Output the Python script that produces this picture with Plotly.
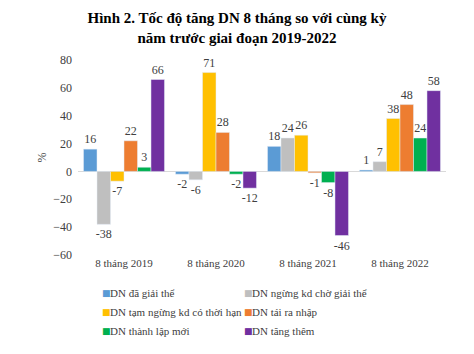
import plotly.graph_objects as go

categories = ["8 tháng 2019", "8 tháng 2020", "8 tháng 2021", "8 tháng 2022"]
series_names = ["DN đã giải thể", "DN ngừng kd chờ giải thể", "DN tạm ngừng kd có thời hạn",
                "DN tái ra nhập", "DN thành lập mới", "DN tăng thêm"]
giai_the = [16, -2, 18, 1]
ngung_kd = [-38, -6, 24, 7]
tam_ngung = [-7, 71, 26, 38]
tai_nhap = [22, 28, -1, 48]
thanh_lap = [3, -2, -8, 24]
tang_them = [66, -12, -46, 58]
colors = ["#5B9BD5", "#BFBFBF", "#FFC000", "#ED7D31", "#00B050", "#7030A0"]
y_ticks = [-60, -40, -20, 0, 20, 40, 60, 80]

FONT = "Liberation Serif, Times New Roman, serif"
TXT = "#404040"
fig = go.Figure()
for name, vals, col in zip(series_names, [giai_the, ngung_kd, tam_ngung, tai_nhap, thanh_lap, tang_them], colors):
    fig.add_trace(go.Bar(
        x=categories, y=vals, name=name, marker_color=col,
        text=[str(v) for v in vals], textposition="outside", cliponaxis=False,
        constraintext="none",
        textfont=dict(family=FONT, size=12, color=TXT),
    ))

# legend drawn as annotations (2 columns x 3 rows)
W, H = 474, 354
ML, MR, MT, MB = 78, 28, 60, 99
pw, ph = W - ML - MR, H - MT - MB
col_px = [100, 242]
row_px = [293, 312, 331]
annotations = []
for i, (name, col) in enumerate(zip(series_names, colors)):
    cx = col_px[i % 2]
    ry = row_px[i // 2]
    xp = (cx - ML) / pw
    yp = (H - MB - ry) / ph
    annotations.append(dict(x=xp, y=yp, xref="paper", yref="paper", xanchor="left", yanchor="middle",
                            text="■", showarrow=False, font=dict(family="DejaVu Sans", size=9, color=col)))
    annotations.append(dict(x=(cx + 8 - ML) / pw, y=yp, xref="paper", yref="paper", xanchor="left",
                            yanchor="middle", text=name, showarrow=False,
                            font=dict(family=FONT, size=11, color=TXT)))

fig.update_layout(
    width=W, height=H,
    margin=dict(l=ML, r=MR, t=MT, b=MB),
    paper_bgcolor="white", plot_bgcolor="white",
    barmode="group", bargap=0.12, bargroupgap=0,
    font=dict(family=FONT, size=12, color=TXT),
    title=dict(text="<b>Hình 2. Tốc độ tăng DN 8 tháng so với cùng kỳ<br>năm trước giai đoạn 2019-2022</b>",
               x=0.5, xanchor="center", y=0.935, yanchor="top", yref="container",
               font=dict(family=FONT, size=15, color="black")),
    showlegend=False,
    annotations=annotations,
)
fig.update_xaxes(showline=False, showgrid=False, ticks="", tickfont=dict(family=FONT, size=11, color=TXT))
fig.update_yaxes(range=[-60, 80], tickvals=y_ticks, showgrid=False, zeroline=True,
                 zerolinecolor="#D9D9D9", zerolinewidth=1, showline=False, ticks="",
                 ticklabelstandoff=5,
                 tickfont=dict(family=FONT, size=12, color=TXT),
                 title=dict(text="%", font=dict(family=FONT, size=12, color=TXT), standoff=4))
fig.write_html("out.html")
